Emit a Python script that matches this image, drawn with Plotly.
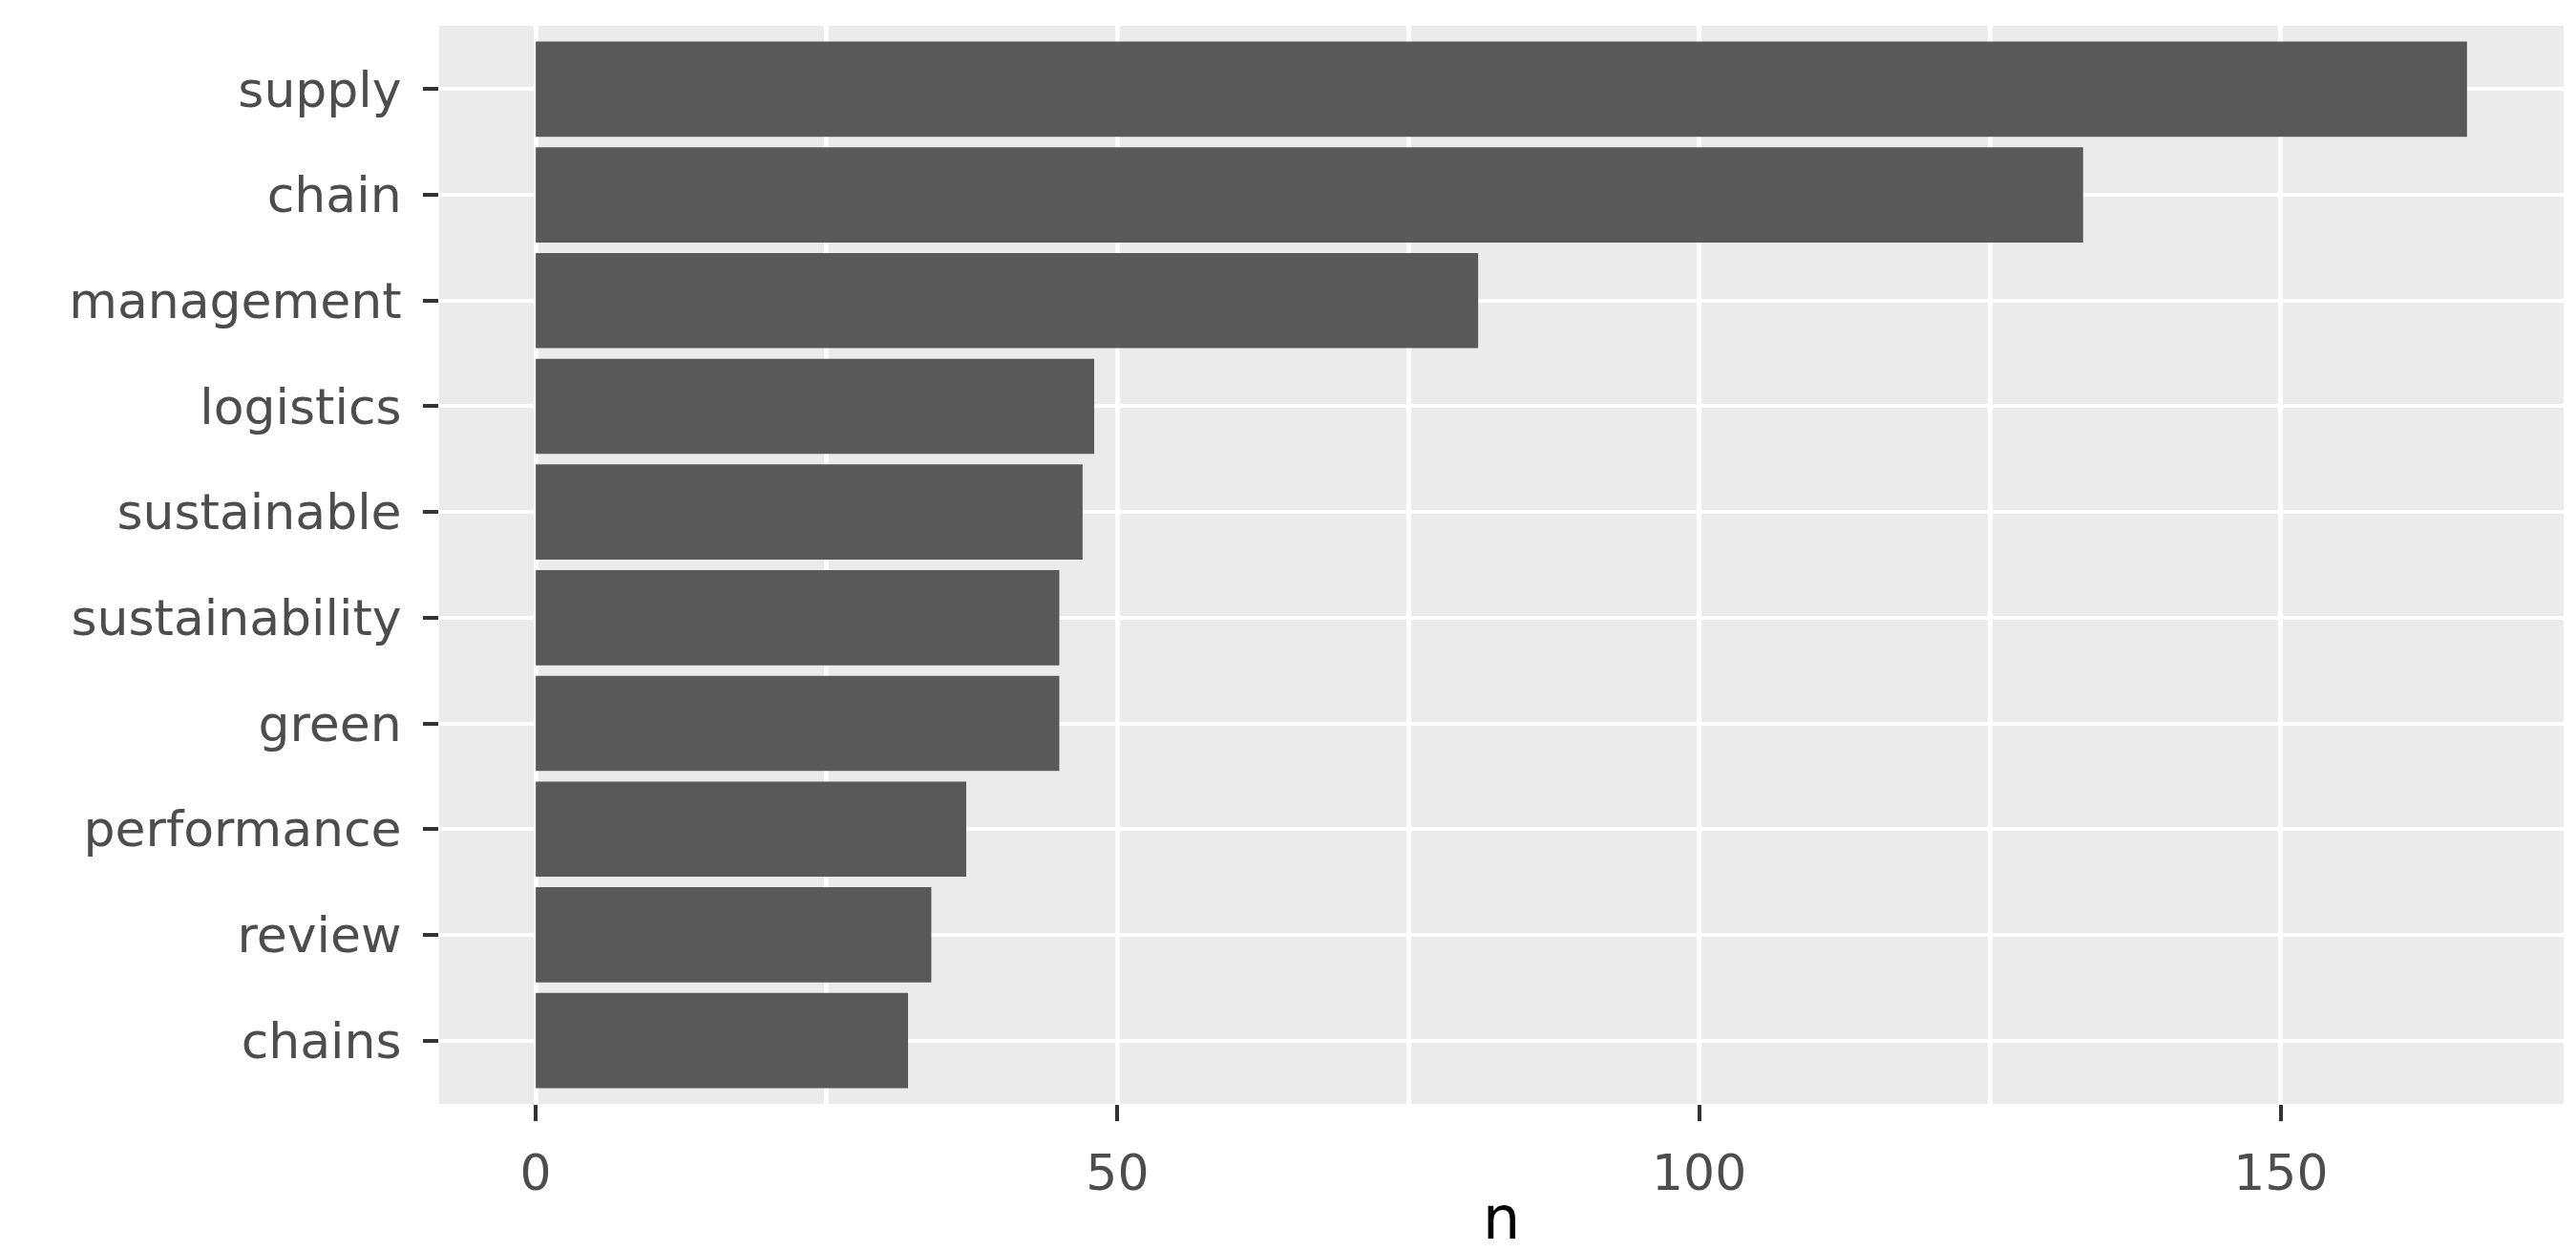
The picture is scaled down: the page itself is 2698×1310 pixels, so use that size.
import plotly.graph_objects as go

# word counts, top word first
words = ['supply', 'chain', 'management', 'logistics', 'sustainable',
         'sustainability', 'green', 'performance', 'review', 'chains']
counts = [166, 133, 81, 48, 47, 45, 45, 37, 34, 32]
x_ticks = [0, 50, 100, 150]

# ggplot2 theme_grey colours
PANEL_BG = '#EBEBEB'
BAR_FILL = '#595959'
TICK_TEXT = '#4D4D4D'
TICK_LINE = '#333333'

WIDTH, HEIGHT = 2698, 1310
MARGIN = dict(l=452, r=21, t=19, b=162)
plot_h = HEIGHT - MARGIN['t'] - MARGIN['b']

# plotly draws categories bottom-up, so reverse to keep 'supply' on top
y_order = words[::-1]

fig = go.Figure()
fig.add_trace(
    go.Bar(
        x=counts,
        y=words,
        orientation='h',
        width=0.9,
        marker=dict(color=BAR_FILL, line=dict(width=0)),
        showlegend=False
    )
)

# 5% expansion either side, like ggplot's continuous scale
x_span = max(counts)
x_range = [-0.05 * x_span, 1.05 * x_span]

fig.update_layout(
    width=WIDTH,
    height=HEIGHT,
    paper_bgcolor='white',
    plot_bgcolor=PANEL_BG,
    margin=MARGIN,
    font=dict(family='DejaVu Sans', color=TICK_TEXT),
    bargap=0.1,
    xaxis=dict(
        range=x_range,
        tickmode='array',
        tickvals=x_ticks,
        ticktext=[str(v) for v in x_ticks],
        ticks='outside',
        ticklen=17,
        tickwidth=4,
        tickcolor=TICK_LINE,
        tickfont=dict(size=52, color=TICK_TEXT, family='DejaVu Sans'),
        ticklabelstandoff=10,
        showgrid=True,
        gridcolor='white',
        gridwidth=5,
        minor=dict(dtick=25, tick0=0, showgrid=True,
                   gridcolor='white', gridwidth=5),
        zeroline=False,
        showline=False,
        automargin=False,
    ),
    yaxis=dict(
        type='category',
        categoryorder='array',
        categoryarray=y_order,
        range=[-0.6, len(words) - 0.4],
        ticks='outside',
        ticklen=16,
        tickwidth=4,
        tickcolor=TICK_LINE,
        tickfont=dict(size=52, color=TICK_TEXT, family='DejaVu Sans'),
        ticklabelstandoff=12,
        showgrid=True,
        gridcolor='white',
        gridwidth=4,
        zeroline=False,
        showline=False,
        automargin=False,
    ),
)

# x axis title placed by hand so it sits close to the bottom edge
fig.add_annotation(
    text='n',
    xref='paper', yref='paper',
    x=0.5, y=-(HEIGHT - 4 - (HEIGHT - MARGIN['b'])) / plot_h,
    xanchor='center', yanchor='bottom',
    showarrow=False,
    font=dict(size=62, color='black', family='DejaVu Sans'),
)

fig.write_html("out.html")
